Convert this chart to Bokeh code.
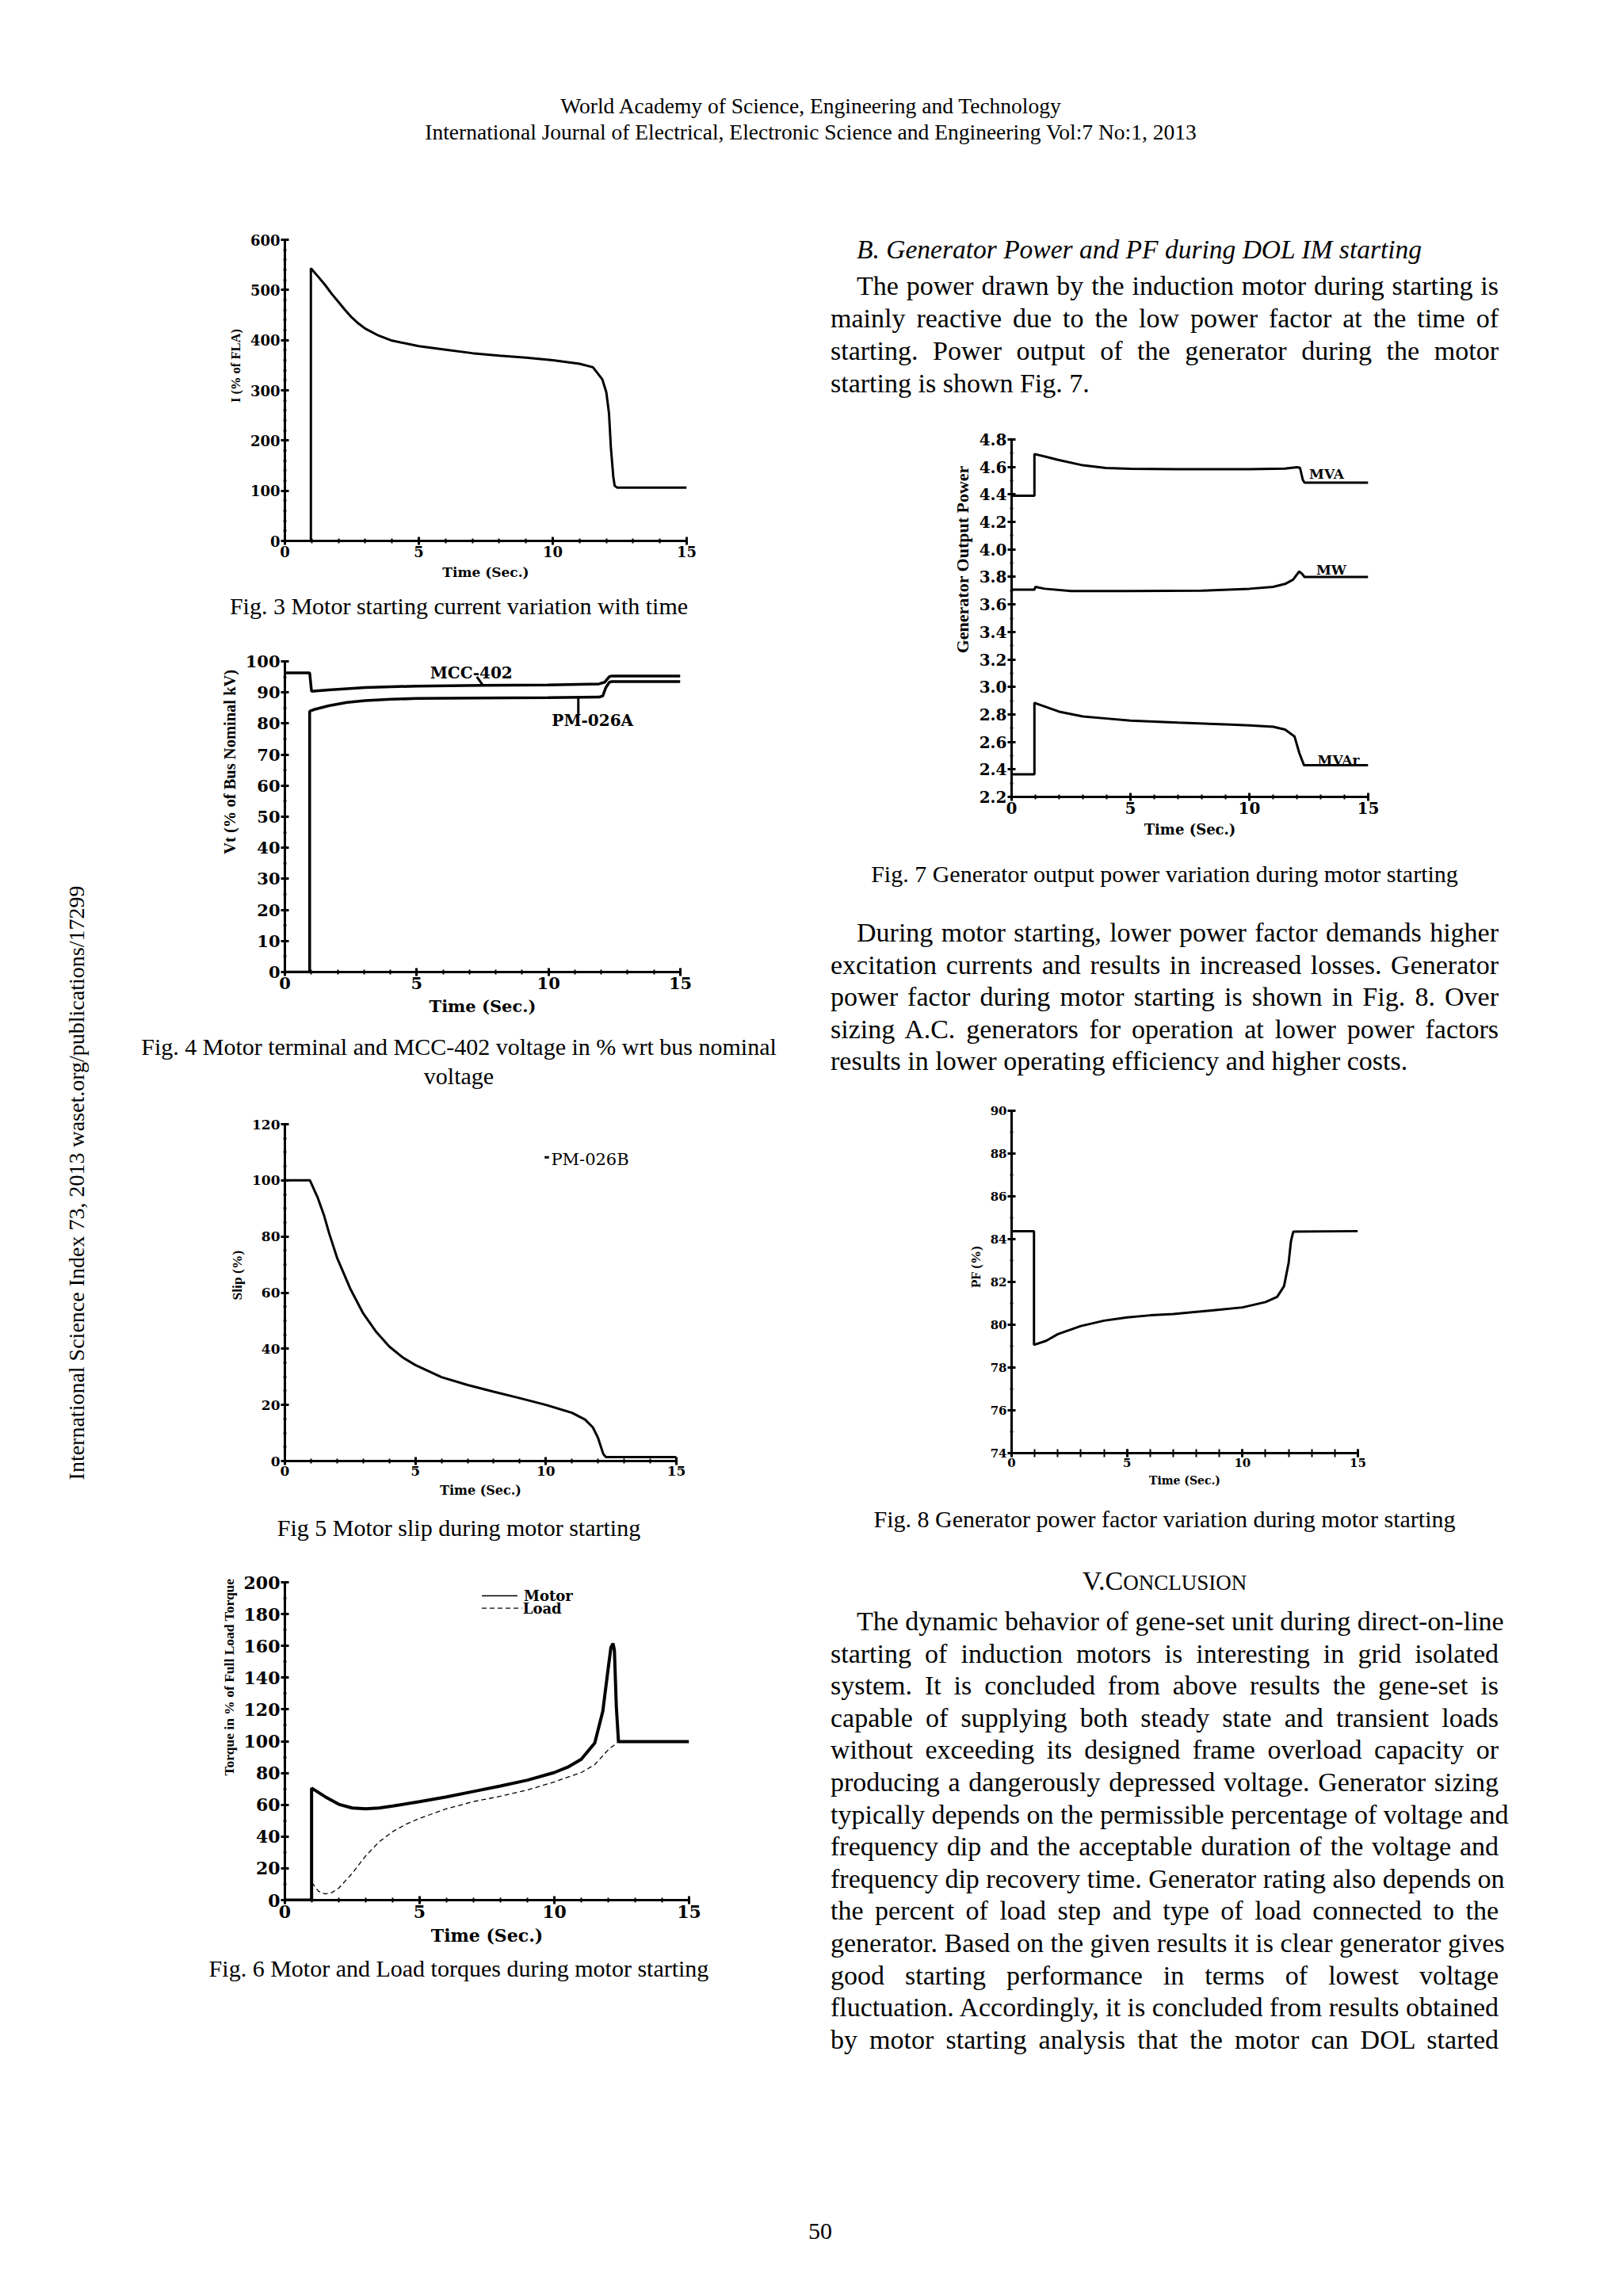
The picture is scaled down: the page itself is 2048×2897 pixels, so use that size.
import math
from bokeh.plotting import figure
from bokeh.models import Range1d, FixedTicker, PrintfTickFormatter, Spacer, Div
from bokeh.layouts import column, row
from bokeh.core.properties import value
from bokeh.embed import file_html
from bokeh.resources import INLINE

# ---------------- data read from the page ----------------
# Fig. 3 - motor starting current (% of FLA)
fig3_time = [0, 0.97, 0.97, 1.25, 1.5, 1.75, 2.0, 2.25, 2.5, 2.75, 3.0, 3.5, 4.0, 5.0, 6.0, 7.0, 8.0,
             9.0, 10.0, 11.0, 11.5, 11.85, 12.0, 12.1, 12.17, 12.26, 12.31, 12.41, 15.0]
fig3_current = [0, 0, 543, 526, 510, 492, 476, 460, 445, 433, 423, 409, 399, 388, 381, 374, 369,
                365, 360, 353, 346, 322, 296, 254, 186, 128, 110, 106, 106]

# Fig. 4 - motor terminal (PM-026A) and MCC-402 voltage (% of bus nominal kV)
fig4_mcc_time = [0, 0.94, 1.01, 1.66, 3.05, 4.99, 7.49, 9.98, 11.92, 12.13, 12.31, 12.4, 15]
fig4_mcc = [96.3, 96.3, 90.4, 90.8, 91.6, 92.05, 92.3, 92.4, 92.75, 93.3, 95.1, 95.3, 95.3]
fig4_pm_time = [0, 0.94, 0.94, 1.11, 1.66, 2.36, 3.05, 4.02, 4.99, 7.21, 9.98, 11.92, 12.06,
                12.17, 12.31, 12.4, 15]
fig4_pm = [0, 0, 83.96, 84.5, 85.7, 86.8, 87.4, 87.8, 88.05, 88.2, 88.3, 88.5, 88.9, 91.5, 93.3,
           93.5, 93.5]

# Fig. 5 - motor slip (%)
fig5_time = [0, 0.96, 1.25, 1.5, 1.7, 2.0, 2.5, 3.0, 3.5, 4.0, 4.5, 5.0, 6.0, 7.0, 8.0, 9.0, 10.0,
             11.0, 11.5, 11.8, 12.0, 12.2, 12.3, 15.0]
fig5_slip = [100, 100, 94, 87.5, 81, 72.4, 61.5, 52.6, 46, 40.8, 37, 34.2, 29.9, 27.1, 24.7, 22.4,
             20, 17.2, 14.8, 12, 8.2, 2.5, 1.4, 1.4]

# Fig. 6 - motor and load torque (% of full load torque)
fig6_motor_time = [0, 0.99, 0.99, 1.5, 2.0, 2.5, 3.0, 3.5, 4.0, 5.0, 6.0, 7.0, 8.0, 9.0, 10.0, 10.5,
                   11.0, 11.5, 11.8, 12.0, 12.1, 12.18, 12.23, 12.3, 12.38, 15.0]
fig6_motor = [0, 0, 70.5, 65, 60.3, 58, 57.5, 58, 59.2, 62, 65, 68.4, 71.8, 75.5, 80.3, 83.7, 88.7,
              98.9, 119, 146, 159, 161.5, 157, 122, 99.7, 99.7]
fig6_load_time = [1.0, 1.25, 1.5, 1.75, 2.0, 2.5, 3.0, 3.5, 4.0, 4.5, 5.0, 6.0, 7.0, 8.0, 9.0, 10.0,
                  11.0, 11.5, 12.0, 12.38]
fig6_load = [11, 5.5, 3.9, 4.8, 7.6, 16.9, 27.9, 36.7, 43.1, 47.8, 51.5, 57.5, 62, 65.4, 69.3, 74.4,
             80.3, 85.3, 94.6, 99.7]

# Fig. 7 - generator output power
fig7_mva_time = [0, 0.96, 0.96, 1.5, 1.92, 3.0, 3.97, 5.0, 7.0, 10.0, 11.5, 12.0, 12.13, 12.25, 12.32, 15.0]
fig7_mva = [4.39, 4.39, 4.694, 4.672, 4.653, 4.612, 4.592, 4.586, 4.584, 4.584, 4.588, 4.598, 4.594,
            4.506, 4.486, 4.486]
fig7_mw_time = [0, 0.96, 1.0, 1.4, 2.5, 5.0, 8.0, 10.0, 11.0, 11.5, 11.84, 12.1, 12.23, 12.32, 15.0]
fig7_mw = [3.708, 3.708, 3.728, 3.714, 3.698, 3.698, 3.70, 3.714, 3.728, 3.749, 3.78, 3.84, 3.82,
           3.80, 3.80]
fig7_mvar_time = [0, 0.96, 0.96, 2.0, 3.0, 4.0, 5.0, 7.0, 9.0, 10.0, 11.0, 11.5, 11.9, 12.1, 12.3, 15.0]
fig7_mvar = [2.365, 2.365, 2.884, 2.82, 2.785, 2.77, 2.755, 2.74, 2.727, 2.72, 2.71, 2.69, 2.64, 2.52,
             2.43, 2.43]

# Fig. 8 - generator power factor (%)
fig8_time = [0, 0.97, 0.97, 1.5, 2, 3, 4, 5, 6, 7, 8, 9, 10, 11, 11.5, 11.8, 12.0, 12.1, 12.2, 15]
fig8_pf = [84.375, 84.375, 79.06, 79.25, 79.56, 79.94, 80.19, 80.34, 80.44, 80.5, 80.6, 80.7, 80.81,
           81.06, 81.3, 81.8, 82.9, 83.9, 84.35, 84.375]

# tick values
time_ticks = [0, 5, 10, 15]
time_minor = [0, 1, 2, 3, 4, 5, 6, 7, 8, 9, 10, 11, 12, 13, 14, 15]
fig3_yticks = [0, 100, 200, 300, 400, 500, 600]
fig4_yticks = [0, 10, 20, 30, 40, 50, 60, 70, 80, 90, 100]
fig5_yticks = [0, 20, 40, 60, 80, 100, 120]
fig6_yticks = [0, 20, 40, 60, 80, 100, 120, 140, 160, 180, 200]
fig7_yticks = [2.2, 2.4, 2.6, 2.8, 3.0, 3.2, 3.4, 3.6, 3.8, 4.0, 4.2, 4.4, 4.6, 4.8]
fig8_yticks = [74, 76, 78, 80, 82, 84, 86, 88, 90]

# texts
header_lines = ["World Academy of Science, Engineering and Technology",
                "International Journal of Electrical, Electronic Science and Engineering Vol:7 No:1, 2013"]
side_text = "International Science Index 73, 2013 waset.org/publications/17299"
cap3 = "Fig. 3 Motor starting current variation with time"
cap4 = ["Fig. 4 Motor terminal and MCC-402 voltage in % wrt bus nominal", "voltage"]
cap5 = "Fig 5 Motor slip during motor starting"
cap6 = "Fig. 6 Motor and Load torques during motor starting"
cap7 = "Fig. 7 Generator output power variation during motor starting"
cap8 = "Fig. 8 Generator power factor variation during motor starting"
heading_b = "B. Generator Power and PF during DOL IM starting"
para1 = ["The power drawn by the induction motor during starting is",
         "mainly reactive due to the low power factor at the time of",
         "starting. Power output of the generator during the motor",
         "starting is shown Fig. 7."]
para2 = ["During motor starting, lower power factor demands higher",
         "excitation currents and results in increased losses. Generator",
         "power factor during motor starting is shown in Fig. 8. Over",
         "sizing A.C. generators for operation at lower power factors",
         "results in lower operating efficiency and higher costs."]
concl = ["The dynamic behavior of gene-set unit during direct-on-line",
         "starting of induction motors is interesting in grid isolated",
         "system. It is concluded from above results the gene-set is",
         "capable of supplying both steady state and transient loads",
         "without exceeding its designed frame overload capacity or",
         "producing a dangerously depressed voltage. Generator sizing",
         "typically depends on the permissible percentage of voltage and",
         "frequency dip and the acceptable duration of the voltage and",
         "frequency dip recovery time. Generator rating also depends on",
         "the percent of load step and type of load connected to the",
         "generator. Based on the given results it is clear generator gives",
         "good starting performance in terms of lowest voltage",
         "fluctuation. Accordingly, it is concluded from results obtained",
         "by motor starting analysis that the motor can DOL started"]
page_number = "50"

SERIF = "'Liberation Serif','Times New Roman',serif"
CHART_FONT = "DejaVu Serif"
YLAB_FONT = "Liberation Serif"
NB = "\u00a0"


def chart(L, T, W, H, R, B, xr, yr, yt, ym, xlab, ylab, tfs, lfs, ylab_fs, ylab_pad=0,
          yfmt=None, xminor_sz=3, yminor_sz=2):
    p = figure(width=L + W + R, height=T + H + B, x_range=Range1d(*xr), y_range=Range1d(*yr),
               output_backend="svg", toolbar_location=None, title=None,
               min_border_left=L, min_border_right=R, min_border_top=T, min_border_bottom=B)
    p.xgrid.visible = False
    p.ygrid.visible = False
    p.outline_line_color = None
    p.margin = 0
    xa, ya = p.xaxis[0], p.yaxis[0]
    xa.ticker = FixedTicker(ticks=time_ticks, minor_ticks=time_minor)
    ya.ticker = FixedTicker(ticks=yt, minor_ticks=ym)
    for ax, msz in ((xa, xminor_sz), (ya, yminor_sz)):
        ax.axis_line_width = 3
        ax.axis_line_color = "black"
        ax.major_tick_line_width = 3
        ax.major_tick_line_color = "black"
        ax.major_tick_in = 5
        ax.major_tick_out = 5
        ax.minor_tick_line_width = 2
        ax.minor_tick_line_color = "black"
        ax.minor_tick_in = msz
        ax.minor_tick_out = msz
        ax.major_label_text_font = CHART_FONT
        ax.major_label_text_font_style = "bold"
        ax.major_label_text_font_size = f"{tfs}px"
        ax.major_label_text_color = "black"
        ax.major_label_standoff = 1
        ax.axis_label_text_font_style = "bold"
        ax.axis_label_text_color = "black"
        ax.axis_label_standoff = 6
    xa.axis_label = xlab
    xa.axis_label_text_font = CHART_FONT
    xa.axis_label_text_font_size = f"{lfs}px"
    # the y label sits above the frame centre in the original: pad its start
    ya.axis_label = NB * ylab_pad + ylab
    ya.axis_label_text_font = YLAB_FONT
    ya.axis_label_text_font_size = f"{ylab_fs}px"
    if yfmt:
        ya.formatter = PrintfTickFormatter(format=yfmt)
    return p


def label(p, x, y, txt, size, align="left", bold=True):
    p.text(x=[x], y=[y], text=[txt], text_font=value(CHART_FONT),
           text_font_style="bold" if bold else "normal", text_font_size=f"{size}px",
           text_align=align, text_baseline="middle", text_color="black")


# ---------------- Fig. 3 ----------------
p3 = chart(200, 18, 510, 380, 45, 62, (0, 15), (0, 600), fig3_yticks,
           [0, 20, 40, 60, 80, 100, 120, 140, 160, 180, 200, 220, 240, 260, 280, 300, 320, 340, 360,
            380, 400, 420, 440, 460, 480, 500, 520, 540, 560, 580, 600],
           "Time (Sec.)", "I (% of FLA)", 18, 17, 16.5, ylab_pad=15)
p3.line(fig3_time, fig3_current, line_color="black", line_width=3)

# ---------------- Fig. 4 ----------------
p4 = chart(203, 16, 499, 392, 45, 60, (0, 15), (0, 100), fig4_yticks,
           [0, 5, 10, 15, 20, 25, 30, 35, 40, 45, 50, 55, 60, 65, 70, 75, 80, 85, 90, 95, 100],
           "Time (Sec.)", "Vt (% of Bus Nominal kV)", 21, 21, 20.5, ylab_pad=27)
p4.line(fig4_mcc_time, fig4_mcc, line_color="black", line_width=3.5)
p4.line(fig4_pm_time, fig4_pm, line_color="black", line_width=3.5)
p4.segment(x0=[7.28], y0=[95.05], x1=[7.51], y1=[92.3], line_color="black", line_width=3)
p4.segment(x0=[11.13], y0=[88.4], x1=[11.13], y1=[83.0], line_color="black", line_width=3)
label(p4, 7.07, 96.3, "MCC-402", 20, align="center")
label(p4, 11.67, 81.1, "PM-026A", 20, align="center")

# ---------------- Fig. 5 ----------------
p5 = chart(193, 16, 504, 425, 45, 58, (0, 15), (0, 120), fig5_yticks,
           [0, 5, 10, 15, 20, 25, 30, 35, 40, 45, 50, 55, 60, 65, 70, 75, 80, 85, 90, 95, 100, 105,
            110, 115, 120],
           "Time (Sec.)", "Slip (%)", 17, 16, 17.5, ylab_pad=10)
p5.line(fig5_time, fig5_slip, line_color="black", line_width=3)
p5.segment(x0=[9.95], y0=[108.2], x1=[10.12], y1=[108.2], line_color="black", line_width=3)
label(p5, 10.2, 107.4, "PM-026B", 21, bold=False)

# ---------------- Fig. 6 ----------------
p6 = chart(201, 16, 512, 403, 45, 58, (0, 15), (0, 200), fig6_yticks,
           [0, 10, 20, 30, 40, 50, 60, 70, 80, 90, 100, 110, 120, 130, 140, 150, 160, 170, 180, 190, 200],
           "Time (Sec.)", "Torque in % of Full Load Torque", 22, 22, 17.5, ylab_pad=37)
p6.line(fig6_motor_time, fig6_motor, line_color="black", line_width=4)
p6.line(fig6_load_time, fig6_load, line_color="black", line_width=1.3, line_dash="6 4")
p6.segment(x0=[7.31], y0=[191.5], x1=[8.63], y1=[191.5], line_color="black", line_width=1.5)
p6.segment(x0=[7.31], y0=[183.7], x1=[8.8], y1=[183.7], line_color="black", line_width=1.3,
           line_dash="6 4")
label(p6, 8.87, 191.5, "Motor", 18)
label(p6, 8.83, 183.7, "Load", 18)

# ---------------- Fig. 7 ----------------
p7 = chart(270, 50, 450, 451, 50, 59, (0, 15), (2.2, 4.8), fig7_yticks,
           [2.2, 2.3, 2.4, 2.5, 2.6, 2.7, 2.8, 2.9, 3.0, 3.1, 3.2, 3.3, 3.4, 3.5, 3.6, 3.7, 3.8, 3.9,
            4.0, 4.1, 4.2, 4.3, 4.4, 4.5, 4.6, 4.7, 4.8],
           "Time (Sec.)", "Generator Output Power", 20, 18, 22, ylab_pad=27, yfmt="%.1f")
p7.line(fig7_mva_time, fig7_mva, line_color="black", line_width=3)
p7.line(fig7_mw_time, fig7_mw, line_color="black", line_width=3)
p7.line(fig7_mvar_time, fig7_mvar, line_color="black", line_width=3)
label(p7, 13.25, 4.547, "MVA", 17, align="center")
label(p7, 13.45, 3.85, "MW", 17, align="center")
label(p7, 13.75, 2.467, "MVAr", 17, align="center")

# ---------------- Fig. 8 ----------------
p8 = chart(256, 20, 451, 432, 50, 54, (0, 15), (74, 90), fig8_yticks,
           [74, 75, 76, 77, 78, 79, 80, 81, 82, 83, 84, 85, 86, 87, 88, 89, 90],
           "Time (Sec.)", "PF (%)", 15, 14, 17, ylab_pad=9, xminor_sz=5)
p8.line(fig8_time, fig8_pf, line_color="black", line_width=3)


# ---------------- text blocks ----------------
def text_lines(lines, fs, lh, left, width, indent=33, justify_last=False, first_indent=True):
    out = []
    for k, ln in enumerate(lines):
        last = k == len(lines) - 1
        al = "justify" if (not last or justify_last) else "left"
        ind = indent if (k == 0 and first_indent) else 0
        out.append(f'<div style="height:{lh}px;line-height:{lh}px;text-align:{al};'
                   f'text-align-last:{al};white-space:nowrap;text-indent:{ind}px;">{ln}</div>')
    return (f'<div style="margin:0 0 0 {left}px;width:{width}px;font-family:{SERIF};'
            f'font-size:{fs}px;color:#000;">' + "".join(out) + '</div>')


def centered(lines, fs, lh, left, width, extra=""):
    body = "".join(f'<div style="height:{lh}px;line-height:{lh}px;white-space:nowrap;">{ln}</div>'
                   for ln in lines)
    return Div(text=f'<div style="margin:0 0 0 {left}px;width:{width}px;text-align:center;'
                    f'font-family:{SERIF};font-size:{fs}px;color:#000;{extra}">{body}</div>',
               width=left + width, height=len(lines) * lh, margin=0)


LH = 40.6
TL = 42      # right-column text inset
TW = 843     # right-column text width
head1 = Div(text=(f'<div style="margin:0 0 0 {TL + 33}px;font-family:{SERIF};font-size:33.5px;'
                  f'font-style:italic;height:41px;line-height:41px;white-space:nowrap;color:#000;">'
                  f'{heading_b}</div><div style="height:5px"></div>' + text_lines(para1, 34, 41, TL, TW)),
            width=1026, height=210, margin=0)
text2 = Div(text=text_lines(para2, 34, LH, TL, TW), width=1026, height=204, margin=0)
conc_head = Div(text=(f'<div style="margin:0 0 0 {TL}px;width:{TW}px;text-align:center;'
                      f'font-family:{SERIF};font-size:34px;height:40px;line-height:40px;color:#000;">'
                      f'V.C<span style="font-size:27px">ONCLUSION</span></div>'),
                width=1026, height=40, margin=0)
conc_text = Div(text=text_lines(concl, 34, LH, TL, TW, justify_last=True), width=1026, height=570,
                margin=0)

c3 = centered([cap3], 30, 40, 0, 846)
c4 = centered(cap4, 30, 37, 0, 846)
c5 = centered([cap5], 30, 40, 0, 846)
c6 = centered([cap6], 30, 40, 0, 846)
c7 = centered([cap7], 30, 40, TL, TW)
c8 = centered([cap8], 30, 40, TL, TW)


def vstack(col_left, col_top, items, width):
    kids = []
    cur = col_top
    for left, top, m in items:
        gap = top - cur
        if gap > 0:
            kids.append(Spacer(width=1, height=gap, margin=0))
        dx = left - col_left
        if dx > 0:
            kids.append(row([Spacer(width=dx, height=m.height, margin=0), m], spacing=0))
        else:
            kids.append(m)
        cur = top + m.height
    kids.append(Spacer(width=width, height=1, margin=0))
    return column(kids, spacing=0), cur + 1


ROW_TOP = 280
ROW_END = 2790
left_col, _ = vstack(160, ROW_TOP, [
    (160, 284, p3), (160, 745, c3),
    (160, 818, p4), (160, 1302, c4),
    (160, 1402, p5), (160, 1908, c5),
    (160, 1980, p6), (160, 2464, c6),
], 850)

right_items = [
    (1010, 294, head1), (1010, 504, p7), (1010, 1083, c7),
    (1010, 1157, text2), (1010, 1381, p8), (1010, 1897, c8),
    (1010, 1975, conc_head), (1010, 2026, conc_text),
]
right_col, rend = vstack(1010, ROW_TOP, right_items, 1026)
right_col.children.append(Spacer(width=1, height=ROW_END - rend, margin=0))

ROW_H = ROW_END - ROW_TOP
SIDE_W = 156
side = figure(width=SIDE_W, height=ROW_H, x_range=Range1d(0, SIDE_W), y_range=Range1d(ROW_H, 0),
              output_backend="svg", toolbar_location=None, title=None, min_border=0,
              x_axis_location=None, y_axis_location=None)
side.xgrid.visible = False
side.ygrid.visible = False
side.outline_line_color = None
side.margin = 0
side.text(x=[96], y=[1492 - ROW_TOP], text=[side_text], angle=math.pi / 2,
          text_font=value("Liberation Serif"), text_font_size="28px", text_align="center",
          text_baseline="middle", text_color="black")

# border-box sizing: left padding p shifts the centre by p/2
header = Div(text=(f'<div style="padding:117px 0 0 14px;width:2032px;text-align:center;'
                   f'font-family:{SERIF};font-size:27.5px;line-height:33px;color:#000;">'
                   + "<br>".join(header_lines) + '</div>'), width=2032, height=280, margin=0)
footer = Div(text=(f'<div style="padding:0 0 0 38px;width:2032px;text-align:center;'
                   f'font-family:{SERIF};font-size:30px;line-height:50px;color:#000;">{page_number}</div>'),
             width=2032, height=50, margin=0)

page = column([header, row([side, left_col, right_col], spacing=0), footer], spacing=0)

open("out.html", "w").write(file_html(page, INLINE, title="Fig 3-8"))
